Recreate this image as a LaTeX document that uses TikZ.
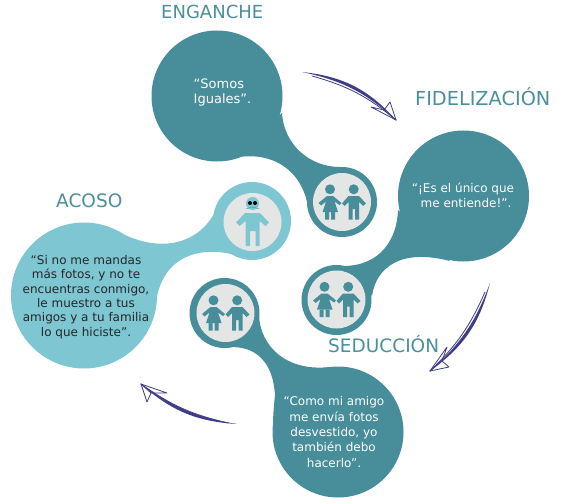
\documentclass[tikz,border=0pt]{standalone}
\usepackage{fontspec}
\setmainfont{DejaVu Sans}
\usepackage{xcolor}
\usetikzlibrary{arrows.meta, positioning, calc}
\definecolor{tealdark}{HTML}{478D9A}
\definecolor{teallight}{HTML}{7FC6D3}
\definecolor{iconbg}{HTML}{E4E6E6}
\definecolor{sketchblue}{HTML}{3F3D85}
\definecolor{titleteal}{HTML}{4A8F9B}
\tikzset{
  bigdark/.style={circle, fill=tealdark, minimum size=131pt, inner sep=0pt},
  biglight/.style={circle, fill=teallight, minimum size=146pt, inner sep=0pt},
  smalldark/.style={circle, fill=tealdark, minimum size=70pt, inner sep=0pt},
  smalllight/.style={circle, fill=teallight, minimum size=78pt, inner sep=0pt},
  iconback/.style={circle, fill=iconbg, minimum size=58pt, inner sep=0pt},
  title/.style={anchor=base west, inner sep=0pt, text=titleteal, font=\fontsize{18.5}{20}\selectfont},
  quote/.style={align=center, inner sep=0pt, text=white, font=\fontsize{12}{15.4}\selectfont},
  sketch/.style={draw=sketchblue, line width=0.8pt, line cap=round, line join=round},
  sketchfill/.style={fill=sketchblue},
  couple/.pic={
    \fill[tealdark] (-12,-12.7) circle (5);
    \fill[tealdark] (-15,-6) -- (-9,-6) -- (-0.5,1) -- (-2.5,3) -- (-7.5,-0.5) -- (-4,10) -- (-19.5,10) -- (-16,-0.5) -- (-21,3.5) -- (-23.5,1) -- cycle;
    \fill[tealdark] (-17,10) rectangle (-13,17.5) (-11,10) rectangle (-7,17.5);
    \fill[tealdark] (11.7,-12.7) circle (5);
    \fill[tealdark] (6.5,-6) -- (17,-6) -- (24,1.5) -- (21,4) -- (17,0) -- (17,17.5) -- (13,17.5) -- (13,7) -- (10.5,7) -- (10.5,17.5) -- (6.5,17.5) -- (6.5,0) -- (2.5,4) -- (0,1.5) -- cycle;
  },
  stalker/.pic={
    \fill[teallight] (0,-18.5) circle (6.5);
    \fill[black] (-2.5,-19) circle (2) (2.5,-19) circle (2);
    \draw[tealdark, line width=0.4pt] (-7,-13.5) .. controls (-3,-13) and (-2,-15.5) .. (0,-15) .. controls (2,-15.5) and (3,-13) .. (7,-13.5);
    \fill[teallight] (-7.5,-9) -- (7.5,-9) -- (16.5,0.5) -- (13,4) -- (7,-1) -- (7,24) -- (3,24) -- (3,9) -- (-2.5,9) -- (-2.5,24) -- (-7,24) -- (-7,-1) -- (-13,4) -- (-16.5,0.5) -- cycle;
  }
}
\begin{document}
\begin{tikzpicture}[x=1pt, y=-1pt]
    \useasboundingbox (0,0) rectangle (562,500);
    % necks
    \fill[tealdark] (282,113) .. controls (284,145) and (310,167) .. (340,167) -- (308,207) .. controls (302,170) and (272,150) .. (233,158) -- cycle;
    \fill[tealdark] (398,210) .. controls (397,240) and (380,265) .. (345,266) -- (372,296) .. controls (376,268) and (400,248) .. (450,261) -- cycle;
    \fill[tealdark] (259,315) .. controls (260,345) and (285,372) .. (330,367) -- (273,425) .. controls (273,415) and (274,405) .. (275,395) .. controls (272,348) and (240,345) .. (225,348) -- cycle;
    \fill[teallight] (218,205) .. controls (205,240) and (165,258) .. (115,230) -- (155,310) .. controls (160,245) and (215,245) .. (250,260) -- cycle;
    % circles
    \node[bigdark] (enganche) at (217,96) {};
    \node[smalldark] (engsmall) at (342,202) {};
    \node[bigdark] (fidel) at (463.5,196) {};
    \node[smalldark] (fidsmall) at (336.5,300) {};
    \node[bigdark] (seduc) at (338,432) {};
    \node[smalldark] (sedsmall) at (224.5,313) {};
    \node[biglight] (acoso) at (84,295.5) {};
    \node[smalllight] (acosmall) at (252,221) {};
    % icons
    \node[iconback] (engicon) at (342,202) {};
    \node[iconback] (fidicon) at (336.5,299.5) {};
    \node[iconback] (sedicon) at (225.5,313) {};
    \node[iconback] (acoicon) at (252.5,222) {};
    \pic (engpair) at (342,202) {couple};
    \pic (fidpair) at (336.5,299.5) {couple};
    \pic (sedpair) at (225.5,313) {couple};
    \pic (acoman) at (252.5,222) {stalker};
    % titles
    \node[title, font=\fontsize{18}{20}\selectfont] (tenganche) at (161,19) {ENGANCHE};
    \node[title, font=\fontsize{19.3}{20}\selectfont] (tfidel) at (415,106) {FIDELIZACIÓN};
    \node[title] (tacoso) at (56,207) {ACOSO};
    \node[title] (tseduc) at (328,352) {SEDUCCIÓN};
    % quotes
    \node[quote, align=left, font=\fontsize{13}{15.4}\selectfont] (qenganche) at (222.5,92.5) {“Somos\\Iguales”.};
    \node[quote] (qfidel) at (463,195) {“¡Es el único que\\\hspace{6pt}me entiende!”.};
    \node[quote] (qseduc) at (334,432) {“Como mi amigo\\me envía fotos\\desvestido, yo\\también debo\\hacerlo”.};
    \node[quote, text=black!85, font=\fontsize{12}{14.4}\selectfont] (qacoso) at (86,297) {“Si no me mandas\\más fotos, y no te\\encuentras conmigo,\\le muestro a tus\\amigos y a tu familia\\lo que hiciste”.};
    % arrows
    \coordinate (aones) at (302,72);
    \coordinate (aonet) at (396,120);
    \coordinate (aonem) at (312,76);
    \fill[sketchfill] (aones) to[bend left=21] (aonet) to[bend right=15] (aones);
    \draw[sketch] (aonem) to[bend left=12] (aonet);
    \draw[sketch] (aonet) -- (390,102) -- (384,110) -- (371,107) -- cycle;
    \draw[sketch] (aonet) -- (384,110);
    \coordinate (atwos) at (490,283);
    \coordinate (atwot) at (430,371);
    \coordinate (atwom) at (485,292);
    \fill[sketchfill] (atwos) to[bend left=20] (atwot) to[bend right=14] (atwos);
    \draw[sketch] (atwom) to[bend left=11] (atwot);
    \draw[sketch] (atwot) -- (447,347) -- (442,361) -- (449,367) -- cycle;
    \draw[sketch] (atwot) -- (442,361);
    \coordinate (athrees) at (237,424);
    \coordinate (athreet) at (141,384);
    \coordinate (athreem) at (228,423);
    \fill[sketchfill] (athrees) to[bend left=19] (athreet) to[bend right=13] (athrees);
    \draw[sketch] (athreem) to[bend left=11] (athreet);
    \draw[sketch] (athreet) -- (167,393) -- (151,393) -- (147,402) -- cycle;
    \draw[sketch] (athreet) -- (151,393);
\end{tikzpicture}
\end{document}
